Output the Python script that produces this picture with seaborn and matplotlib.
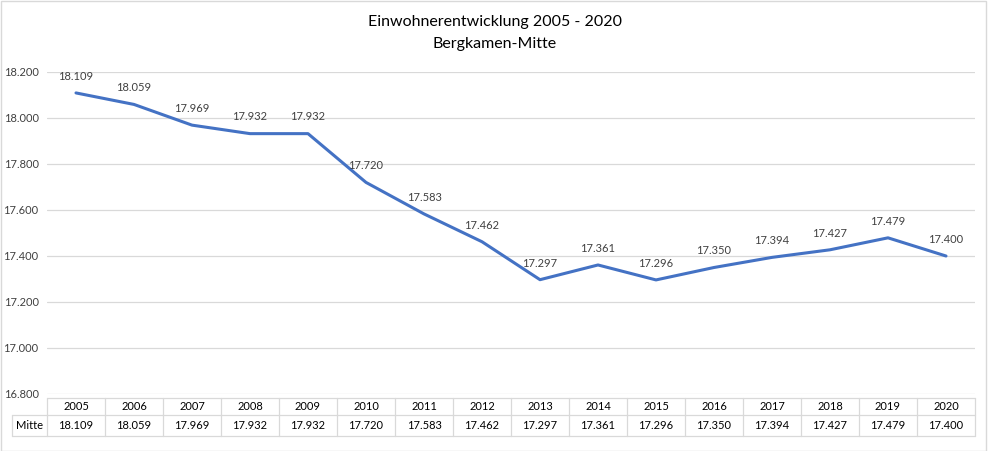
import matplotlib
matplotlib.use("Agg")
import matplotlib.pyplot as plt
import seaborn as sns
import pandas as pd
from matplotlib.patches import Rectangle

years = ["2005", "2006", "2007", "2008", "2009", "2010", "2011", "2012",
         "2013", "2014", "2015", "2016", "2017", "2018", "2019", "2020"]
mitte = [18109, 18059, 17969, 17932, 17932, 17720, 17583, 17462,
         17297, 17361, 17296, 17350, 17394, 17427, 17479, 17400]
series_name = "Mitte"
title_lines = ["Einwohnerentwicklung 2005 - 2020", "Bergkamen-Mitte"]
y_ticks = [16800, 17000, 17200, 17400, 17600, 17800, 18000, 18200]

sns.set_theme(style="white")
plt.rcParams['font.family'] = ['Lato', 'DejaVu Sans']

def de(v):
    return f"{v:,.0f}".replace(",", ".")

W, H = 989, 451
fig = plt.figure(figsize=(W / 100, H / 100), dpi=100)
fig.patch.set_facecolor("white")
fig.patches.append(Rectangle((0.5 / W, 0.5 / H), 1 - 3.5 / W, 1 - 1.5 / H,
                             transform=fig.transFigure, fill=False,
                             edgecolor="#D9D9D9", linewidth=1))

left, right, top, bottom = 47, 975, 72, 394
ax = fig.add_axes([left / W, 1 - bottom / H, (right - left) / W, (bottom - top) / H])

df = pd.DataFrame({"Jahr": years, "Einwohner": mitte})
sns.lineplot(data=df, x="Jahr", y="Einwohner", ax=ax, color="#4472C4",
             linewidth=2.2, sort=False)

ax.set_xlim(-0.5, len(years) - 0.5)
ax.set_ylim(y_ticks[0], y_ticks[-1])
ax.set_yticks(y_ticks)
ax.set_yticklabels([de(v) for v in y_ticks], fontsize=8, color="#404040")
ax.tick_params(axis="y", length=0, pad=6)
ax.set_xticks([])
ax.set_xlabel("")
ax.set_ylabel("")
ax.grid(axis="y", color="#D9D9D9", linewidth=0.9)
ax.set_axisbelow(True)
for s in ax.spines.values():
    s.set_visible(False)

for i, v in enumerate(mitte):
    ax.annotate(de(v), (i, v), xytext=(0, 12), textcoords="offset points",
                ha="center", va="center", fontsize=8, color="#404040")

fig.text(0.5, 1 - 22 / H, title_lines[0], ha="center", va="center",
         fontsize=11.5, color="#000000")
fig.text(0.5, 1 - 44 / H, title_lines[1], ha="center", va="center",
         fontsize=11.5, color="#000000")

# data table below the axis
ph = bottom - top
y0 = -(398 - bottom) / ph
y1 = -(415 - bottom) / ph
y2 = -(436 - bottom) / ph
xl = -(left - 12) / (right - left)
tr = ax.get_xaxis_transform()
gc = "#D9D9D9"
kw = dict(color=gc, linewidth=0.9, clip_on=False)
n = len(years)
# horizontal lines
ax.plot([-0.5, n - 0.5], [y0, y0], transform=tr, **kw)
ax.plot([xl, 1], [y1, y1], transform=ax.transAxes, **kw)
ax.plot([xl, 1], [y2, y2], transform=ax.transAxes, **kw)
# vertical lines
ax.plot([xl, xl], [y1, y2], transform=ax.transAxes, **kw)
for k in range(n + 1):
    ax.plot([k - 0.5, k - 0.5], [y0, y2], transform=tr, **kw)
for i, (yr, v) in enumerate(zip(years, mitte)):
    ax.text(i, (y0 + y1) / 2, yr, transform=tr, ha="center", va="center",
            fontsize=8, color="#000000")
    ax.text(i, (y1 + y2) / 2, de(v), transform=tr, ha="center", va="center",
            fontsize=8, color="#000000")
ax.text((xl + 0) / 2, (y1 + y2) / 2, series_name, transform=ax.transAxes,
        ha="center", va="center", fontsize=8, color="#000000")

fig.savefig("out.png", dpi=100)
